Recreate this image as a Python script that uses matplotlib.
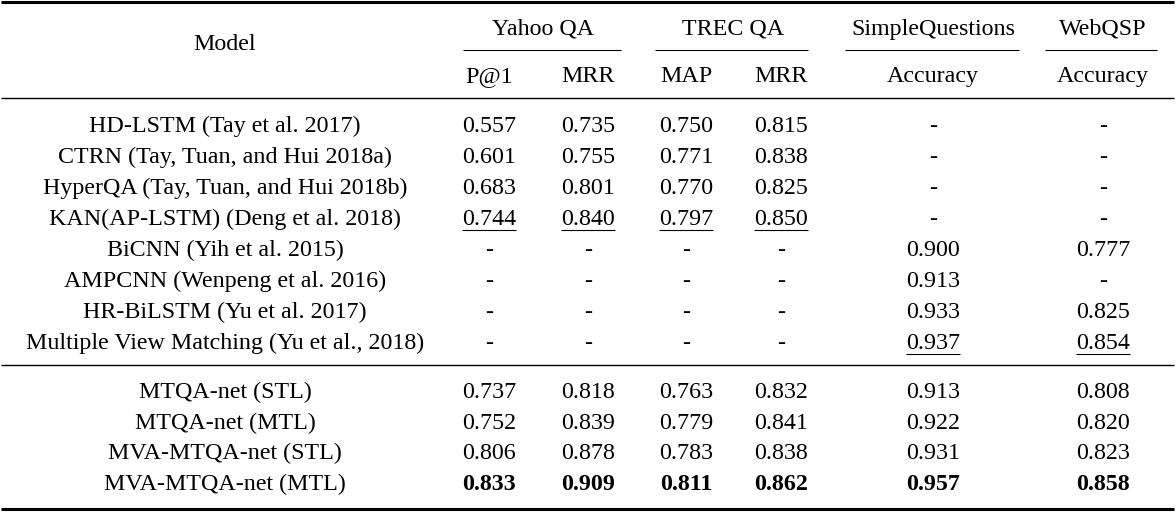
import matplotlib
matplotlib.use("Agg")
import matplotlib.pyplot as plt

plt.rcParams['font.family'] = ['Liberation Serif', 'DejaVu Serif']

models = [
    "HD-LSTM (Tay et al. 2017)",
    "CTRN (Tay, Tuan, and Hui 2018a)",
    "HyperQA (Tay, Tuan, and Hui 2018b)",
    "KAN(AP-LSTM) (Deng et al. 2018)",
    "BiCNN (Yih et al. 2015)",
    "AMPCNN (Wenpeng et al. 2016)",
    "HR-BiLSTM (Yu et al. 2017)",
    "Multiple View Matching (Yu et al., 2018)",
    "MTQA-net (STL)",
    "MTQA-net (MTL)",
    "MVA-MTQA-net (STL)",
    "MVA-MTQA-net (MTL)",
]
yahoo_p1 = ["0.557", "0.601", "0.683", "0.744", "-", "-", "-", "-", "0.737", "0.752", "0.806", "0.833"]
yahoo_mrr = ["0.735", "0.755", "0.801", "0.840", "-", "-", "-", "-", "0.818", "0.839", "0.878", "0.909"]
trec_map = ["0.750", "0.771", "0.770", "0.797", "-", "-", "-", "-", "0.763", "0.779", "0.783", "0.811"]
trec_mrr = ["0.815", "0.838", "0.825", "0.850", "-", "-", "-", "-", "0.832", "0.841", "0.838", "0.862"]
sq_acc = ["-", "-", "-", "-", "0.900", "0.913", "0.933", "0.937", "0.913", "0.922", "0.931", "0.957"]
webqsp_acc = ["-", "-", "-", "-", "0.777", "-", "0.825", "0.854", "0.808", "0.820", "0.823", "0.858"]

groups = ["Yahoo QA", "TREC QA", "SimpleQuestions", "WebQSP"]
metrics = ["P@1", "MRR", "MAP", "MRR", "Accuracy", "Accuracy"]
columns = [yahoo_p1, yahoo_mrr, trec_map, trec_mrr, sq_acc, webqsp_acc]

underlined = {(3, 0), (3, 1), (3, 2), (3, 3), (7, 4), (7, 5)}
bold_row = 11

W, H = 1176, 512
fig = plt.figure(figsize=(W / 100, H / 100), dpi=100)
ax = fig.add_axes([0, 0, 1, 1])
ax.set_xlim(0, W)
ax.set_ylim(H, 0)
ax.axis("off")

fs = 17.3
col_x = [489, 588, 686, 781, 933, 1103]
group_x = [543, 733, 933, 1103]
group_span = [(463, 621), (655, 808), (845, 1019), (1045, 1157)]
model_x = 225
# text baselines (pixels from top)
row_base = [132, 163, 194, 225, 256, 287, 318, 349, 398, 428.7, 459.3, 490]

# rules
ax.plot([1, W - 2], [2, 2], color="black", lw=2.2, solid_capstyle="butt")
ax.plot([1, W - 2], [98, 98], color="black", lw=1.0, solid_capstyle="butt")
ax.plot([1, W - 2], [365, 365], color="black", lw=1.0, solid_capstyle="butt")
ax.plot([1, W - 2], [508.5, 508.5], color="black", lw=2.2, solid_capstyle="butt")
for x0, x1 in group_span:
    ax.plot([x0, x1], [50, 50], color="black", lw=0.8, solid_capstyle="butt")

# header
ax.text(model_x, 50, "Model", ha="center", va="baseline", fontsize=fs)
for gx, g in zip(group_x, groups):
    ax.text(gx, 35, g, ha="center", va="baseline", fontsize=fs)
for cx, m in zip(col_x, metrics):
    ax.text(cx, 82, m, ha="center", va="baseline", fontsize=fs)

# body
under_texts = []
for i, name in enumerate(models):
    y = row_base[i]
    ax.text(model_x, y, name, ha="center", va="baseline", fontsize=fs)
    for j, col in enumerate(columns):
        t = ax.text(col_x[j], y, col[i], ha="center", va="baseline", fontsize=fs,
                    fontweight="bold" if i == bold_row else "normal")
        if (i, j) in underlined:
            under_texts.append((t, y))

fig.canvas.draw()
renderer = fig.canvas.get_renderer()
inv = ax.transData.inverted()
for t, y in under_texts:
    bb = t.get_window_extent(renderer)
    (x0, _), (x1, _) = inv.transform([(bb.x0, bb.y0), (bb.x1, bb.y0)])
    ax.plot([x0, x1], [y + 5, y + 5], color="black", lw=0.8, solid_capstyle="butt")

fig.savefig("out.png", dpi=100)
